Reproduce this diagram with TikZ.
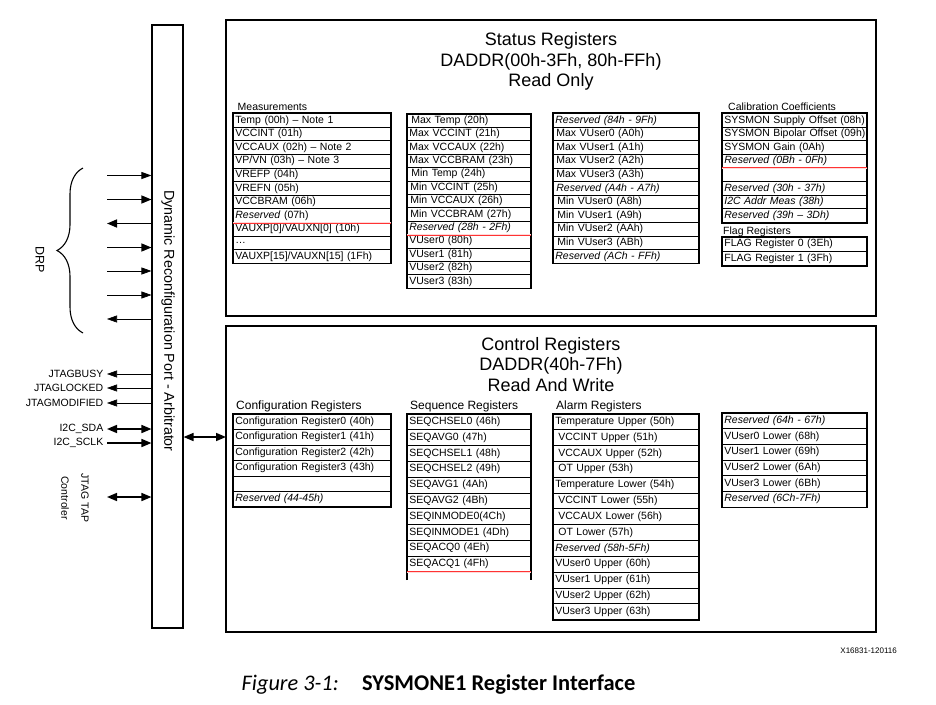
\documentclass[tikz,border=0pt]{standalone}
\usepackage{fontspec}
\setmainfont{Liberation Sans}
\newfontfamily\capfont{Carlito}
\usepackage{tikz}
\usetikzlibrary{arrows.meta,positioning,calc,decorations.pathreplacing}

\begin{document}
\begin{tikzpicture}[
    x=1pt, y=-1pt,
    font=\fontsize{10.5}{12}\selectfont,
    frame/.style={draw=black, line width=1.1pt, inner sep=0pt},
    title/.style={align=center, font=\fontsize{18}{20.5}\selectfont},
    reg/.style={draw=black, line width=0.7pt, anchor=north west, inner xsep=2pt, inner ysep=0pt, align=left},
    tbl/.style={line width=1.6pt},
    grp/.style={anchor=base west, inner sep=0pt},
    sig/.style={anchor=east, inner xsep=3.5pt, inner ysep=0pt},
    redline/.style={draw=red!80, line width=0.45pt, double=red!15, double distance=0.9pt},
    wire/.style={line width=0.8pt, -{Triangle[length=10pt,width=7pt]}},
    bwire/.style={line width=1.6pt, -{Triangle[length=10pt,width=8pt]}},
    dwire/.style={line width=1.6pt, {Triangle[length=10pt,width=8pt]}-{Triangle[length=10pt,width=8pt]}}
  ]
    \useasboundingbox (0,0) rectangle (936,704);

    % arbitrator and the two register blocks
    \node[frame, minimum width=31, minimum height=603] (arb) at (167.5,326.5) {};
    \node[rotate=-90, font=\fontsize{14.3}{16}\selectfont] (arbtxt) at (168,321) {Dynamic Reconfiguration Port - Arbitrator};
    \node[frame, minimum width=650, minimum height=296] (stat) at (551,168) {};
    \node[title] (stattl) at (551,61.5) {Status Registers\\DADDR(00h-3Fh, 80h-FFh)\\Read Only};
    \node[frame, minimum width=650, minimum height=306] (ctrl) at (551,479) {};
    \node[title] (ctrltl) at (551,364.5) {Control Registers\\DADDR(40h-7Fh)\\Read And Write};

    % status registers
    \node[grp] (meas) at (237.5,110) {Measurements};
    \foreach \txt [count=\i] in {{Temp (00h) -- Note 1}, {VCCINT (01h)}, {VCCAUX (02h) -- Note 2}, {VP/VN (03h) -- Note 3},
        {VREFP (04h)}, {VREFN (05h)}, {VCCBRAM (06h)}, {\textit{Reserved} (07h)}, {VAUXP[0]/VAUXN[0] (10h)}, {\ldots},
        {VAUXP[15]/VAUXN[15] (1Fh)}}
      \node[reg, minimum width=157, text width=153, minimum height=13.6] (ms\i) at (233,{113.2+(\i-1)*13.6}) {\mbox{\txt}};
    \draw[tbl] (ms1.north west) rectangle (ms11.south east);
    \draw[redline] (ms8.south west) -- (ms8.south east);

    \foreach \txt [count=\i] in {{\hspace*{2pt}Max Temp (20h)}, {Max VCCINT (21h)}, {Max VCCAUX (22h)}, {Max VCCBRAM (23h)},
        {\hspace*{2pt}Min Temp (24h)}, {\hspace*{1pt}Min VCCINT (25h)}, {\hspace*{1pt}Min VCCAUX (26h)}, {\hspace*{1pt}Min VCCBRAM (27h)},
        {\textit{Reserved (28h - 2Fh)}}, {VUser0 (80h)}, {VUser1 (81h)}, {VUser2 (82h)}, {VUser3 (83h)}}
      \node[reg, minimum width=123, text width=119, minimum height=13.4] (mx\i) at (407,{113.5+(\i-1)*13.4}) {\mbox{\txt}};
    \draw[tbl] (mx1.north west) rectangle (mx13.south east);
    \draw[redline] (mx9.south west) -- (mx9.south east);

    \foreach \txt [count=\i] in {{\textit{Reserved (84h - 9Fh)}}, {\hspace*{1pt}Max VUser0 (A0h)}, {\hspace*{1pt}Max VUser1 (A1h)},
        {\hspace*{1pt}Max VUser2 (A2h)}, {\hspace*{1pt}Max VUser3 (A3h)}, {\hspace*{1pt}\textit{Reserved (A4h - A7h)}},
        {\hspace*{2pt}Min VUser0 (A8h)}, {\hspace*{2pt}Min VUser1 (A9h)}, {\hspace*{2pt}Min VUser2 (AAh)},
        {\hspace*{2pt}Min VUser3 (ABh)}, {\textit{Reserved (ACh - FFh)}}}
      \node[reg, minimum width=145, text width=141, minimum height=13.6] (vu\i) at (553,{113.2+(\i-1)*13.6}) {\mbox{\txt}};
    \draw[tbl] (vu1.north west) rectangle (vu11.south east);

    \node[grp] (calib) at (728,110) {Calibration Coefficients};
    \foreach \txt [count=\i] in {{SYSMON Supply Offset (08h)}, {SYSMON Bipolar Offset (09h)}, {SYSMON Gain (0Ah)},
        {\textit{Reserved (0Bh - 0Fh)}}, {\mbox{}}, {\textit{Reserved (30h - 37h)}}, {\textit{I2C Addr Meas (38h)}},
        {\textit{Reserved (39h -- 3Dh)}}}
      \node[reg, minimum width=144, text width=140, minimum height=13.6] (cal\i) at (722,{113.2+(\i-1)*13.6}) {\mbox{\txt}};
    \draw[tbl] (cal1.north west) rectangle (cal8.south east);
    \draw[redline] (cal4.south west) -- (cal4.south east);

    \node[grp] (flag) at (723,234) {Flag Registers};
    \foreach \txt [count=\i] in {{FLAG Register 0 (3Eh)}, {FLAG Register 1 (3Fh)}}
      \node[reg, minimum width=144, text width=140, minimum height=14.5] (fl\i) at (722,{236.5+(\i-1)*14.5}) {\mbox{\txt}};
    \draw[tbl] (fl1.north west) rectangle (fl2.south east);

    % control registers
    \node[grp, font=\fontsize{12}{14}\selectfont] (cfg) at (236,409.5) {Configuration Registers};
    \foreach \txt [count=\i] in {{Configuration Register0 (40h)}, {Configuration Register1 (41h)}, {Configuration Register2 (42h)},
        {Configuration Register3 (43h)}, {\mbox{}}, {\textit{Reserved (44-45h)}}}
      \node[reg, minimum width=157, text width=153, minimum height=15.5] (cf\i) at (233,{413.5+(\i-1)*15.5}) {\mbox{\txt}};
    \draw[tbl] (cf1.north west) rectangle (cf6.south east);

    \node[grp, font=\fontsize{12}{14}\selectfont] (seq) at (410,409.5) {Sequence Registers};
    \foreach \txt [count=\i] in {{SEQCHSEL0 (46h)}, {SEQAVG0 (47h)}, {SEQCHSEL1 (48h)}, {SEQCHSEL2 (49h)}, {SEQAVG1 (4Ah)},
        {SEQAVG2 (4Bh)}, {SEQINMODE0(4Ch)}, {SEQINMODE1 (4Dh)}, {SEQACQ0 (4Eh)}, {SEQACQ1 (4Fh)}}
      \node[reg, minimum width=123, text width=119, minimum height=15.8] (sq\i) at (407,{413.5+(\i-1)*15.8}) {\mbox{\txt}};
    \draw[tbl] ($(sq10.south west)+(0,8)$) -- (sq1.north west) -- (sq1.north east) -- ($(sq10.south east)+(0,8)$);
    \draw[redline] (sq10.south west) -- (sq10.south east);

    \node[grp, font=\fontsize{12}{14}\selectfont] (alarm) at (556,409.5) {Alarm Registers};
    \foreach \txt [count=\i] in {{Temperature Upper (50h)}, {\hspace*{3pt}VCCINT Upper (51h)}, {\hspace*{3pt}VCCAUX Upper (52h)},
        {\hspace*{3pt}OT Upper (53h)}, {Temperature Lower (54h)}, {\hspace*{3pt}VCCINT Lower (55h)},
        {\hspace*{3pt}VCCAUX Lower (56h)}, {\hspace*{3pt}OT Lower (57h)}, {\textit{Reserved (58h-5Fh)}}, {VUser0 Upper (60h)},
        {VUser1 Upper (61h)}, {VUser2 Upper (62h)}, {VUser3 Upper (63h)}}
      \node[reg, minimum width=145, text width=141, minimum height=15.83] (al\i) at (553,{413.5+(\i-1)*15.83}) {\mbox{\txt}};
    \draw[tbl] (al1.north west) rectangle (al13.south east);

    \foreach \txt [count=\i] in {{\textit{Reserved (64h - 67h)}}, {VUser0 Lower (68h)}, {VUser1 Lower (69h)},
        {VUser2 Lower (6Ah)}, {VUser3 Lower (6Bh)}, {\textit{Reserved (6Ch-7Fh)}}}
      \node[reg, minimum width=144, text width=140, minimum height=15.7] (lw\i) at (722,{412.5+(\i-1)*15.7}) {\mbox{\txt}};
    \draw[tbl] (lw1.north west) rectangle (lw6.south east);

    % arbitrator to control block
    \coordinate (cx) at (226,437);
    \draw[dwire] (arb.east |- cx) -- (cx);

    % DRP bus
    \coordinate (d1) at (107,175.5);
    \coordinate (d2) at (107,199.5);
    \coordinate (d3) at (107,223.5);
    \coordinate (d4) at (107,247.5);
    \coordinate (d5) at (107,271);
    \coordinate (d6) at (107,295);
    \coordinate (d7) at (107,319);
    \draw[wire] (d1) -- (arb.west |- d1);
    \draw[bwire, line width=1.3pt] (d2) -- (arb.west |- d2);
    \draw[bwire] (arb.west |- d3) -- (d3);
    \draw[bwire, line width=1.3pt] (d4) -- (arb.west |- d4);
    \draw[wire] (d5) -- (arb.west |- d5);
    \draw[wire, line width=0.6pt] (d6) -- (arb.west |- d6);
    \draw[wire, line width=0.6pt] (arb.west |- d7) -- (d7);
    \coordinate (bb) at (83,333);
    \coordinate (bt) at (83,168);
    \draw[line width=1.1pt, decorate, decoration={brace, amplitude=26pt}] (bb) -- (bt);
    \node[rotate=-90, font=\fontsize{12.5}{14}\selectfont] (drp) at (40,260) {DRP};

    % JTAG and I2C signals
    \node[sig] (jbusy) at (107,374) {JTAGBUSY};
    \node[sig] (jlock) at (107,388) {JTAGLOCKED};
    \node[sig] (jmod) at (107,403) {JTAGMODIFIED};
    \draw[wire, line width=0.6pt] (arb.west |- jbusy) -- (jbusy.east);
    \draw[wire, line width=0.6pt] (arb.west |- jlock) -- (jlock.east);
    \draw[wire, line width=0.6pt] (arb.west |- jmod) -- (jmod.east);
    \node[sig] (sda) at (107,429) {I2C\_SDA};
    \node[sig] (sclk) at (107,443) {I2C\_SCLK};
    \draw[dwire] (sda.east) -- (arb.west |- sda);
    \draw[bwire] (sclk.east) -- (arb.west |- sclk);
    \node[rotate=-90, align=center, font=\fontsize{10.5}{20}\selectfont] (tap) at (75,498) {JTAG TAP\\Controler};
    \coordinate (tapw) at (107,497);
    \draw[dwire] (tapw) -- (arb.west |- tapw);

    % caption
    \node[anchor=base east, inner sep=0pt, font=\fontsize{8}{9}\selectfont] (fignum) at (897,653) {X16831-120116};
    \node[anchor=base west, inner sep=0pt, font=\capfont\fontsize{22.3}{24}\selectfont\itshape] (figlbl) at (241.5,690) {Figure 3-1:};
    \node[anchor=base west, inner sep=0pt, font=\capfont\fontsize{22.5}{24}\selectfont\bfseries] (figttl) at (362,690) {SYSMONE1 Register Interface};
  \end{tikzpicture}
\end{document}
